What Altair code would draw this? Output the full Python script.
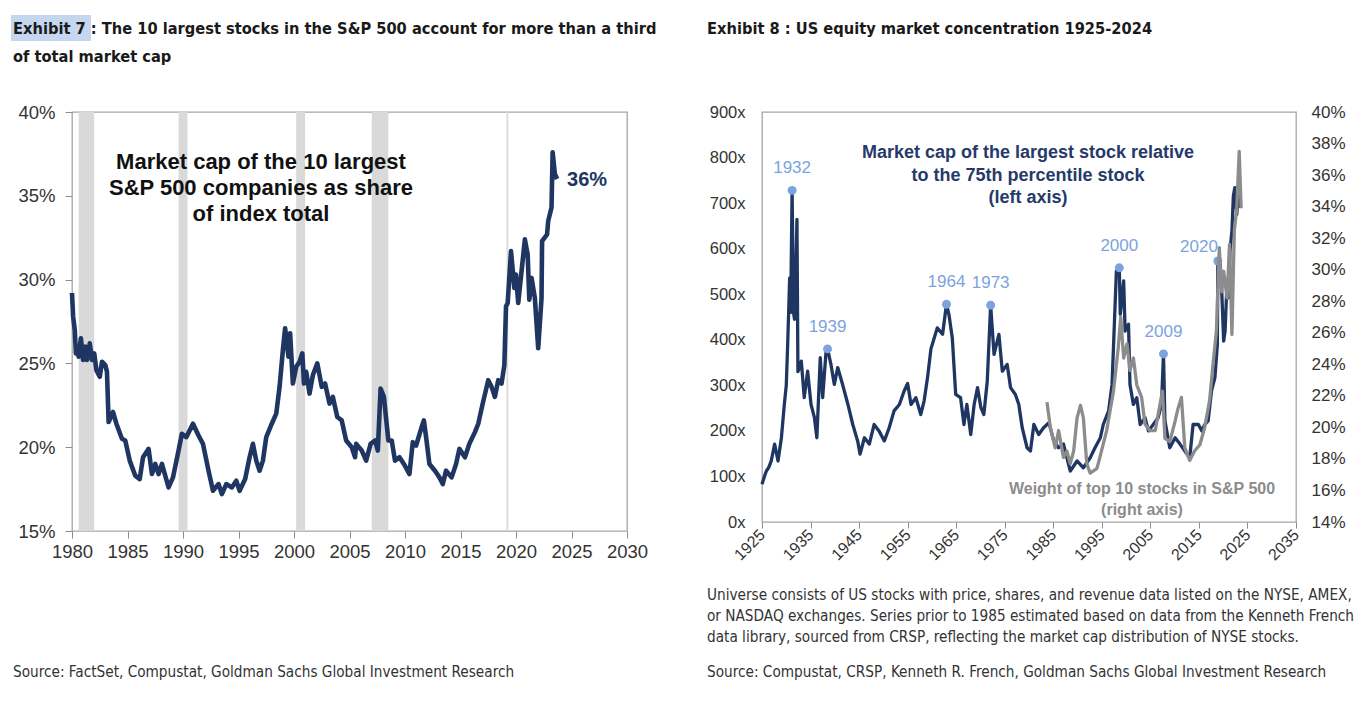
import altair as alt
import pandas as pd

# ---------------- Exhibit 7: weight of the 10 largest stocks in the S&P 500 (%)
share_years = [
    1980.0, 1980.1, 1980.25, 1980.35, 1980.5, 1980.6, 1980.8, 1981.0, 1981.2, 1981.35,
    1981.6, 1981.8, 1982.0, 1982.2, 1982.5, 1982.7, 1983.0, 1983.15, 1983.3, 1983.7,
    1984.0, 1984.5, 1984.8, 1985.2, 1985.7, 1986.1, 1986.4, 1986.9, 1987.2, 1987.5,
    1987.8, 1988.1, 1988.7, 1989.1, 1989.6, 1989.9, 1990.3, 1990.9, 1991.4, 1991.8,
    1992.3, 1992.7, 1993.2, 1993.5, 1993.9, 1994.4, 1994.8, 1995.1, 1995.6, 1996.0,
    1996.3, 1996.6, 1996.9, 1997.2, 1997.5, 1998.0, 1998.4, 1998.7, 1999.0, 1999.2,
    1999.5, 1999.65, 1999.9, 2000.2, 2000.5, 2000.75, 2000.9, 2001.1, 2001.4, 2001.7,
    2002.1, 2002.5, 2002.8, 2003.2, 2003.5, 2003.9, 2004.3, 2004.7, 2005.2, 2005.5,
    2005.6, 2006.1, 2006.5, 2006.9, 2007.3, 2007.55, 2007.8, 2008.1, 2008.5, 2008.8,
    2009.1, 2009.5, 2009.9, 2010.4, 2010.7, 2011.0, 2011.5, 2011.7, 2011.9, 2012.2,
    2012.7, 2013.1, 2013.4, 2013.7, 2014.2, 2014.6, 2014.9, 2015.4, 2015.8, 2016.3,
    2016.6, 2017.0, 2017.5, 2017.8, 2018.1, 2018.4, 2018.7, 2018.95, 2019.1, 2019.25,
    2019.55, 2019.85, 2020.0, 2020.2, 2020.5, 2020.8, 2021.05, 2021.2, 2021.4, 2021.7,
    2022.0, 2022.3, 2022.35, 2022.8, 2022.9, 2023.2, 2023.3, 2023.5, 2023.7,
]
share_pct = [
    29.2, 27.8, 27.0, 25.6, 25.8, 25.4, 26.5, 25.2, 26.0, 25.2,
    26.2, 25.2, 25.6, 24.6, 24.2, 25.1, 24.9, 24.5, 21.5, 22.1,
    21.4, 20.5, 20.4, 19.2, 18.3, 18.1, 19.4, 19.9, 18.4, 19.0,
    18.4, 19.0, 17.6, 18.2, 19.8, 20.8, 20.6, 21.4, 20.7, 20.2,
    18.6, 17.4, 17.8, 17.2, 17.8, 17.6, 18.0, 17.4, 18.1, 19.4,
    20.2, 19.2, 18.6, 19.2, 20.6, 21.4, 22.0, 23.6, 25.8, 27.1,
    25.4, 26.8, 23.8, 24.8, 25.1, 25.6, 23.8, 24.5, 23.2, 24.3,
    25.0, 23.6, 23.8, 22.6, 23.0, 21.8, 21.6, 20.4, 20.0, 19.4,
    20.2, 19.8, 19.2, 20.2, 20.4, 19.8, 23.5, 23.0, 20.4, 20.4,
    19.2, 19.4, 19.0, 18.4, 20.3, 20.1, 21.2, 21.6, 20.6, 19.0,
    18.6, 18.2, 17.8, 18.6, 18.2, 19.0, 19.9, 19.4, 20.2, 20.9,
    21.4, 22.6, 24.0, 23.6, 23.0, 24.0, 23.8, 24.9, 28.4, 28.6,
    31.7, 29.5, 30.3, 28.6, 30.5, 32.4, 31.5, 28.8, 30.1, 28.9,
    25.9, 28.9, 32.3, 32.7, 33.5, 34.3, 37.6, 36.3, 36.0,
]
latest_label = "36%"

recession_start = [1980.6, 1989.6, 2000.2, 2007.0, 2019.15]
recession_end = [1982.0, 1990.4, 2001.0, 2008.5, 2019.3]

# ---------------- Exhibit 8: largest stock vs 75th percentile stock (x) and top-10 weight (%)
ratio_years = [
    1925.0, 1925.5, 1925.9, 1926.4, 1926.9, 1927.6, 1928.3, 1929.0, 1929.6, 1930.0,
    1930.3, 1930.7, 1930.9, 1931.2, 1931.5, 1931.7, 1932.0, 1932.2, 1932.4, 1932.8,
    1933.1, 1933.7, 1934.4, 1935.1, 1935.8, 1936.3, 1937.0, 1937.5, 1938.2, 1938.5,
    1939.2, 1939.9, 1940.6, 1941.6, 1942.7, 1943.7, 1944.7, 1945.2, 1946.1, 1947.1,
    1948.1, 1949.1, 1950.2, 1951.2, 1952.2, 1953.3, 1954.3, 1955.0, 1955.7, 1956.7,
    1957.7, 1958.4, 1959.1, 1959.8, 1961.1, 1962.2, 1963.0, 1963.5, 1964.2, 1964.9,
    1965.9, 1966.6, 1967.2, 1968.0, 1968.7, 1969.4, 1970.1, 1970.7, 1971.4, 1972.1,
    1972.8, 1973.8, 1974.5, 1975.5, 1976.2, 1977.2, 1977.9, 1978.6, 1979.6, 1980.3,
    1981.0, 1982.0, 1983.0, 1984.1, 1985.1, 1986.1, 1987.1, 1988.5, 1989.9, 1991.2,
    1992.6, 1993.6, 1994.7, 1995.3, 1996.4, 1997.1, 1997.4, 1998.0, 1998.6, 1998.8,
    1999.5, 1999.8, 2000.5, 2000.8, 2001.5, 2002.2, 2002.9, 2003.9, 2004.6, 2005.6,
    2006.6, 2007.3, 2007.7, 2008.0, 2009.0, 2010.1, 2011.1, 2012.1, 2013.1, 2013.8,
    2014.9, 2015.6, 2016.2, 2016.9, 2017.6, 2018.3, 2018.8, 2018.9, 2019.4, 2019.7,
    2020.1, 2020.4, 2020.8, 2021.1, 2021.4, 2021.8, 2022.1, 2022.4, 2022.8, 2023.1,
    2023.5,
]
ratio_values = [
    83, 100, 112, 120, 134, 171, 134, 185, 258, 300,
    393, 536, 460, 728, 460, 445, 560, 664, 330, 340,
    353, 273, 331, 258, 229, 185, 361, 273, 375, 380,
    346, 302, 339, 302, 258, 214, 178, 149, 185, 171,
    214, 200, 178, 207, 244, 258, 288, 304, 258, 273,
    236, 266, 317, 380, 426, 412, 478, 456, 404, 280,
    273, 214, 258, 192, 258, 295, 251, 236, 309, 476,
    368, 412, 331, 346, 295, 280, 258, 207, 163, 156,
    214, 192, 207, 218, 178, 163, 171, 112, 134, 119,
    141, 163, 185, 214, 244, 302, 383, 551, 558, 456,
    529, 419, 434, 302, 258, 273, 214, 229, 200, 214,
    229, 258, 369, 222, 163, 185, 171, 156, 141, 214,
    214, 200, 214, 222, 288, 317, 390, 573, 566, 507,
    397, 420, 529, 492, 595, 639, 716, 734, 675, 719,
    690,
]

weight_years = [
    1983.7, 1984.4, 1985.4, 1986.1, 1987.1, 1987.8, 1988.5, 1989.2, 1989.9, 1990.6,
    1991.2, 1991.9, 1992.6, 1994.0, 1994.6, 1996.0, 1997.4, 1998.4, 1998.9, 1999.5,
    2000.2, 2000.8, 2001.5, 2002.2, 2003.2, 2003.9, 2004.9, 2006.0, 2007.0, 2007.5,
    2008.0, 2009.0, 2010.1, 2010.7, 2011.4, 2012.1, 2013.1, 2014.1, 2015.2, 2016.2,
    2017.2, 2017.9, 2018.6, 2019.2, 2019.7, 2020.1, 2020.8, 2021.3, 2021.8, 2022.3,
    2022.8, 2023.3, 2023.7,
]
weight_pct = [
    21.6, 20.0, 18.7, 19.8, 18.1, 18.5, 17.7, 18.5, 20.6, 21.4,
    20.6, 17.7, 17.1, 17.4, 18.1, 19.8, 22.3, 25.1, 27.0, 24.4,
    25.3, 23.6, 24.4, 22.7, 21.9, 20.2, 19.8, 19.8, 21.5, 22.3,
    19.3, 19.1, 20.4, 21.2, 21.9, 18.7, 17.9, 18.5, 18.9, 20.0,
    21.7, 24.0, 26.1, 31.4, 28.6, 29.9, 28.2, 31.6, 25.9, 32.5,
    33.9, 37.5, 33.9,
]

peak_years = [1931.2, 1938.5, 1963.0, 1972.1, 1998.6, 2007.7, 2018.9]
peak_values = [728, 380, 478, 476, 558, 369, 573]
peak_labels = ["1932", "1939", "1964", "1973", "2000", "2009", "2020"]

# ---------------- text
title7 = "Exhibit 7 : The 10 largest stocks in the S&P 500 account for more than a third\nof total market cap"
title8 = "Exhibit 8 : US equity market concentration 1925-2024"
note7 = "Market cap of the 10 largest\nS&P 500 companies as share\nof index total"
note8_ratio = "Market cap of the largest stock relative\nto the 75th percentile stock\n(left axis)"
note8_weight = "Weight of top 10 stocks in S&P 500\n(right axis)"
footnote8 = ("Universe consists of US stocks with price, shares, and revenue data listed on the NYSE, AMEX,\n"
             "or NASDAQ exchanges. Series prior to 1985 estimated based on data from the Kenneth French\n"
             "data library, sourced from CRSP, reflecting the market cap distribution of NYSE stocks.")
source7 = "Source: FactSet, Compustat, Goldman Sachs Global Investment Research"
source8 = "Source: Compustat, CRSP, Kenneth R. French, Goldman Sachs Global Investment Research"

# ---------------- styling
NAVY = "#1f3663"
GREY = "#8c8c8c"
DOT = "#7ca3de"
AXIS_TXT = "#333333"
HEAD_FONT = "'DejaVu Sans Condensed', 'Roboto Condensed', 'Liberation Sans Narrow', Roboto, sans-serif"
BODY_FONT = "Liberation Sans"
HEAD_SIZE = 16.3
NOTE_SIZE = 15.2

W7, H7 = 555, 419
W8, H8 = 534, 410


def text_layer(txt, **mark):
    return alt.Chart(pd.DataFrame({"t": [txt]})).mark_text(**mark).encode(text="t:N")


# ================= Exhibit 7 =================
share_df = pd.DataFrame({"year": share_years, "pct": share_pct})
rec_df = pd.DataFrame({"start": recession_start, "end": recession_end})
last_df = share_df.tail(1).assign(label=latest_label)

x7_scale = alt.Scale(domain=[1980, 2030], nice=False, zero=False)
x7_axis = alt.Axis(values=list(range(1980, 2031, 5)), format="d", title=None, grid=False,
                   domain=False, tickSize=7, tickColor="#8c8c8c", labelPadding=4,
                   labelOverlap=False, labelFlush=False, labelFontSize=18.5,
                   labelColor=AXIS_TXT, labelFont=BODY_FONT)
y7_scale = alt.Scale(domain=[15, 40], nice=False, zero=False)
y7_axis = alt.Axis(values=list(range(15, 41, 5)), labelExpr="datum.value + '%'", title=None,
                   grid=False, domain=False, tickSize=7, tickColor="#8c8c8c", labelPadding=10,
                   labelFlush=False, labelFontSize=18.5, labelColor=AXIS_TXT, labelFont=BODY_FONT)

bands = alt.Chart(rec_df).mark_rect(color="#d9d9d9").encode(
    x=alt.X("start:Q", scale=x7_scale, axis=x7_axis),
    x2="end:Q",
    y=alt.value(0),
    y2=alt.value(H7),
)
share_line = alt.Chart(share_df).mark_line(color=NAVY, strokeWidth=4.6, strokeJoin="round").encode(
    x=alt.X("year:Q", scale=x7_scale, axis=x7_axis),
    y=alt.Y("pct:Q", scale=y7_scale, axis=y7_axis),
)
last_label = alt.Chart(last_df).mark_text(
    align="left", baseline="middle", dx=10, dy=1, font=BODY_FONT, fontSize=20,
    fontWeight="bold", color=NAVY,
).encode(x="year:Q", y="pct:Q", text="label:N")

note7_mark = text_layer(note7, align="center", baseline="alphabetic", lineBreak="\n",
                        lineHeight=26, font=BODY_FONT, fontSize=22, fontWeight="bold",
                        color="#111111").encode(x=alt.value(189), y=alt.value(57))

highlight = alt.Chart(pd.DataFrame({"t": [0]})).mark_rect(color="#c5d6ef").encode(
    x=alt.value(-61), x2=alt.value(19), y=alt.value(-97), y2=alt.value(-71))
title7_mark = text_layer(title7, align="left", baseline="alphabetic", lineBreak="\n",
                         lineHeight=28, font=HEAD_FONT, fontSize=HEAD_SIZE, fontWeight="bold",
                         color="#1a1a1a").encode(x=alt.value(-59), y=alt.value(-78))
source7_mark = text_layer(source7, align="left", baseline="alphabetic", font=HEAD_FONT,
                          fontSize=NOTE_SIZE, color="#333333").encode(x=alt.value(-59), y=alt.value(565))

exhibit7 = alt.layer(
    bands, share_line, last_label, note7_mark, highlight, title7_mark, source7_mark
).properties(width=W7, height=H7)

# ================= Exhibit 8 =================
ratio_df = pd.DataFrame({"year": ratio_years, "ratio": ratio_values})
weight_df = pd.DataFrame({"year": weight_years, "weight": weight_pct})
peak_df = pd.DataFrame({"year": peak_years, "ratio": peak_values, "label": peak_labels})

x8_scale = alt.Scale(domain=[1925, 2035], nice=False, zero=False)
x8_axis = alt.Axis(values=list(range(1925, 2036, 10)), format="d", title=None, grid=False,
                   domain=False, tickSize=6, tickColor="#8c8c8c", labelAngle=315,
                   labelAlign="right", labelBaseline="middle", labelPadding=4,
                   labelOverlap=False, labelFlush=False, labelFontSize=16,
                   labelColor=AXIS_TXT, labelFont=BODY_FONT)
yl_scale = alt.Scale(domain=[0, 900], nice=False, zero=False)
yl_axis = alt.Axis(values=list(range(0, 901, 100)), labelExpr="datum.value + 'x'", title=None,
                   grid=False, domain=False, ticks=False, labelPadding=17, labelFontSize=16.5,
                   labelFlush=False, labelColor=AXIS_TXT, labelFont=BODY_FONT)
yr_scale = alt.Scale(domain=[14, 40], nice=False, zero=False)
yr_axis = alt.Axis(orient="right", values=list(range(14, 41, 2)), labelExpr="datum.value + '%'",
                   title=None, grid=False, domain=False, ticks=False, labelPadding=15,
                   labelFlush=False, labelFontSize=17, labelColor=AXIS_TXT, labelFont=BODY_FONT)

ratio_line = alt.Chart(ratio_df).mark_line(color=NAVY, strokeWidth=3.3, strokeJoin="round").encode(
    x=alt.X("year:Q", scale=x8_scale, axis=x8_axis),
    y=alt.Y("ratio:Q", scale=yl_scale, axis=yl_axis),
)
peak_dots = alt.Chart(peak_df).mark_circle(color=DOT, opacity=1, size=80).encode(
    x="year:Q", y="ratio:Q")
peak_text = alt.Chart(peak_df).transform_filter("datum.label != '2020'").mark_text(
    align="center", baseline="alphabetic", dy=-17, font=BODY_FONT, fontSize=17, color=DOT,
).encode(x="year:Q", y="ratio:Q", text="label:N")
peak_text_last = alt.Chart(peak_df).transform_filter("datum.label == '2020'").mark_text(
    align="right", baseline="alphabetic", dy=-9, font=BODY_FONT, fontSize=17, color=DOT,
).encode(x="year:Q", y="ratio:Q", text="label:N")

note8_ratio_mark = text_layer(note8_ratio, align="center", baseline="alphabetic", lineBreak="\n",
                              lineHeight=22.5, font=BODY_FONT, fontSize=18, fontWeight="bold",
                              color="#26396b").encode(x=alt.value(266), y=alt.value(46))
note8_weight_mark = text_layer(note8_weight, align="center", baseline="alphabetic", lineBreak="\n",
                               lineHeight=20.5, font=BODY_FONT, fontSize=16, fontWeight="bold",
                               color=GREY).encode(x=alt.value(380), y=alt.value(382))
title8_mark = text_layer(title8, align="left", baseline="alphabetic", font=HEAD_FONT,
                         fontSize=HEAD_SIZE, fontWeight="bold", color="#1a1a1a"
                         ).encode(x=alt.value(-55), y=alt.value(-78))
foot8_mark = text_layer(footnote8, align="left", baseline="alphabetic", lineBreak="\n",
                        lineHeight=21, font=HEAD_FONT, fontSize=NOTE_SIZE, color="#333333"
                        ).encode(x=alt.value(-55), y=alt.value(488))
source8_mark = text_layer(source8, align="left", baseline="alphabetic", font=HEAD_FONT,
                          fontSize=NOTE_SIZE, color="#333333").encode(x=alt.value(-55), y=alt.value(565))

left_scale_layers = alt.layer(
    ratio_line, peak_dots, peak_text, peak_text_last, note8_ratio_mark, note8_weight_mark,
    title8_mark, foot8_mark, source8_mark,
)
weight_line = alt.Chart(weight_df).mark_line(color=GREY, strokeWidth=3.3, strokeJoin="round").encode(
    x=alt.X("year:Q", scale=x8_scale, axis=x8_axis),
    y=alt.Y("weight:Q", scale=yr_scale, axis=yr_axis),
)
exhibit8 = alt.layer(left_scale_layers, weight_line).resolve_scale(y="independent").properties(
    width=W8, height=H8)

chart = alt.hconcat(exhibit7, exhibit8, spacing=135, bounds="flush").properties(
    padding={"left": 10, "top": 14, "right": 5, "bottom": 5},
    background="white",
).configure_view(stroke="#a6a6a6", strokeWidth=1.3)

chart.save("out.html", embed_options={"renderer": "svg", "actions": False})
